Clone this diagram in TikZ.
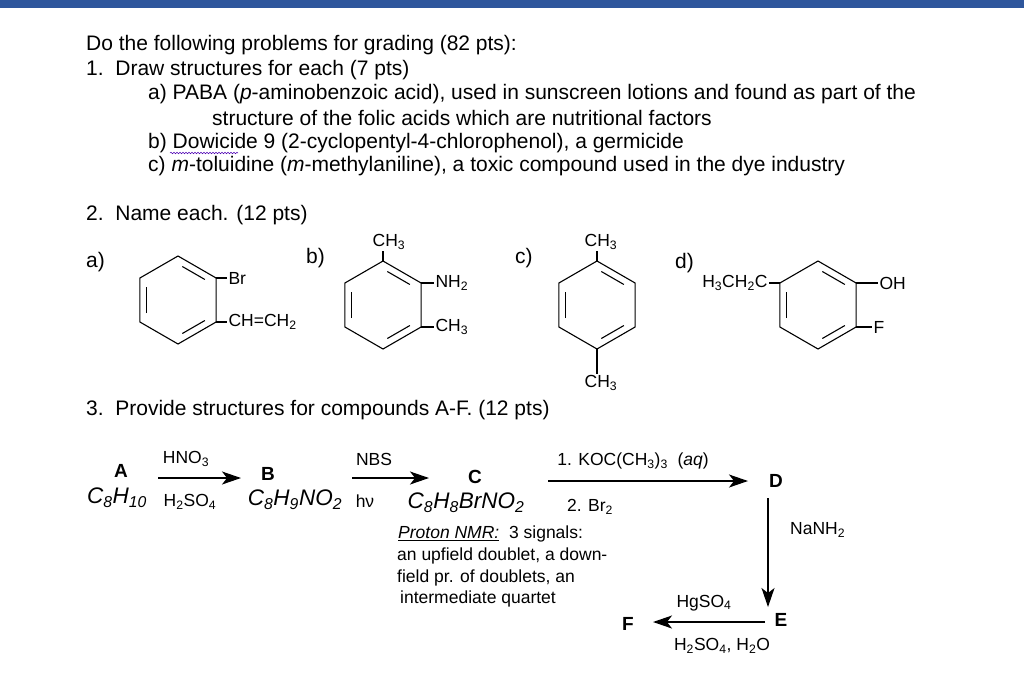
\documentclass[tikz,border=0pt]{standalone}
\usepackage{fontspec}
\setmainfont{Liberation Sans}
\usetikzlibrary{arrows.meta,decorations.pathmorphing}
\definecolor{barblue}{RGB}{46,86,156}
\tikzset{
 txt/.style={anchor=west,inner sep=0pt,font=\fontsize{21}{24}\selectfont},
 sm/.style={inner sep=0pt,font=\fontsize{17.5}{20}\selectfont},
 big/.style={inner sep=0pt,font=\fontsize{22.5}{26}\selectfont},
 lbl/.style={inner sep=0pt,font=\bfseries\fontsize{19}{22}\selectfont},
 bd/.style={line width=1.1pt},
 rx/.style={line width=1.3pt,-{Stealth[length=19pt,width=13pt,inset=5pt]}},
 benz/.pic={
  \draw[bd] (0,-44) -- (38.1,-22) -- (38.1,22) -- (0,44) -- (-38.1,22) -- (-38.1,-22) -- cycle;
  \draw[bd,shorten <=5pt,shorten >=5pt] (0,-36) -- (31.2,-18);
  \draw[bd,shorten <=5pt,shorten >=5pt] (31.2,18) -- (0,36);
  \draw[bd,shorten <=5pt,shorten >=5pt] (-31.2,18) -- (-31.2,-18);
 }
}
\begin{document}
\begin{tikzpicture}[x=1pt,y=-1pt]
\useasboundingbox (0,0) rectangle (1024,683);
\fill[barblue] (0,0) rectangle (1024,8);
% question text
\node[txt] (t1) at (86,45) {Do the following problems for grading (82 pts):};
\node[txt] (t2) at (86,70) {1.\ \ Draw structures for each (7 pts)};
\node[txt] (t3) at (148,94) {a) PABA (\textit{p}-aminobenzoic acid), used in sunscreen lotions and found as part of the};
\node[txt] (t4) at (212,118) {structure of the folic acids which are nutritional factors};
\node[txt] (t5) at (148,143) {b) Dowicide 9 (2-cyclopentyl-4-chlorophenol), a germicide};
\draw[color=blue!60!purple,line width=0.5pt,decorate,decoration={snake,amplitude=0.8pt,segment length=3pt}] (170,153) -- (238,153);
\node[txt] (t6) at (148,166) {c) \textit{m}-toluidine (\textit{m}-methylaniline), a toxic compound used in the dye industry};
\node[txt] (t7) at (86,215) {2.\ \ Name each. (12 pts)};
\node[txt] (t8) at (86,410) {3.\ \ Provide structures for compounds A-F. (12 pts)};
% labels
\node[txt] (la) at (86,262) {a)};
\node[txt] (lb) at (306,258) {b)};
\node[txt] (lc) at (515,258) {c)};
\node[txt] (ld) at (675,263) {d)};
% ring a
\pic at (178,300) {benz};
\draw[bd] (216.1,278) -- (227,278) node[sm,anchor=west,inner sep=1pt] (abr) {Br};
\draw[bd] (216.1,322) -- (227,322) node[sm,anchor=west,inner sep=1pt] (avin) {CH=CH\textsubscript{2}};
% ring b
\pic at (383,305) {benz};
\draw[bd] (421.1,283) -- (434,283) node[sm,anchor=west,inner sep=1pt] (bnh) {NH\textsubscript{2}};
\draw[bd] (421.1,327) -- (434,327) node[sm,anchor=west,inner sep=1pt] (bch) {CH\textsubscript{3}};
\draw[bd] (383,261) -- (383,251) node[sm,anchor=south,inner sep=1pt,xshift=6pt] (bch2) {CH\textsubscript{3}};
% ring c
\pic at (597,305) {benz};
\draw[bd] (597,261) -- (597,251) node[sm,anchor=south,inner sep=1pt,xshift=4pt] (cch1) {CH\textsubscript{3}};
\draw[bd] (597,349) -- (597,374) node[sm,anchor=north,inner sep=1pt,xshift=4pt] (cch2) {CH\textsubscript{3}};
% ring d
\pic at (818,305) {benz};
\draw[bd] (779.9,283) -- (769,283) node[sm,anchor=east,inner sep=1pt] (det) {H\textsubscript{3}CH\textsubscript{2}C};
\draw[bd] (856.1,283) -- (878,283) node[sm,anchor=west,inner sep=1pt] (doh) {OH};
\draw[bd] (856.1,327) -- (872,327) node[sm,anchor=west,inner sep=1pt] (df) {F};
% reaction scheme
\node[lbl] (A) at (121,471) {A};
\node[big] (fA) at (117,498) {\textit{C\textsubscript{8}H\textsubscript{10}}};
\node[lbl] (B) at (268,474) {B};
\node[big] (fB) at (295,500) {\textit{C\textsubscript{8}H\textsubscript{9}NO\textsubscript{2}}};
\node[lbl] (C) at (475,477) {C};
\node[big] (fC) at (466,503) {\textit{C\textsubscript{8}H\textsubscript{8}BrNO\textsubscript{2}}};
\node[lbl] (D) at (776,481) {D};
\node[lbl] (E) at (781,620) {E};
\node[lbl] (F) at (628,624) {F};
\coordinate (a1s) at (158,478); \coordinate (a1e) at (241,478);
\draw[rx] (a1s) -- (a1e);
\node[sm] (r1) at (186,459) {HNO\textsubscript{3}};
\node[sm] (r2) at (190,502) {H\textsubscript{2}SO\textsubscript{4}};
\coordinate (a2s) at (352,478); \coordinate (a2e) at (429,478);
\draw[rx] (a2s) -- (a2e);
\node[sm] (r3) at (374,459) {NBS};
\node[sm] (r4) at (365,501) {hν};
\coordinate (a3s) at (548,481); \coordinate (a3e) at (748,481);
\draw[rx] (a3s) -- (a3e);
\node[sm] (r5) at (633,461) {1. KOC(CH\textsubscript{3})\textsubscript{3}\ \ (\textit{aq})};
\node[sm] (r6) at (590,507) {2. Br\textsubscript{2}};
\coordinate (dv) at (768,498);
\draw[rx] (dv) -- (768,607);
\node[sm,anchor=west] (r7) at (790,530) {NaNH\textsubscript{2}};
\coordinate (ev) at (765,622);
\draw[rx] (ev) -- (653,622);
\node[sm] (r8) at (704,603) {HgSO\textsubscript{4}};
\node[sm] (r9) at (722,646) {H\textsubscript{2}SO\textsubscript{4}, H\textsubscript{2}O};
\node[sm,anchor=west] (n1) at (398,534) {\textit{\underline{Proton NMR:}}\ \ 3 signals:};
\node[sm,anchor=west] (n2) at (397,556) {an upfield doublet, a down-};
\node[sm,anchor=west] (n3) at (397,578) {field pr. of doublets, an};
\node[sm,anchor=west] (n4) at (400,599) {intermediate quartet};
\end{tikzpicture}
\end{document}
